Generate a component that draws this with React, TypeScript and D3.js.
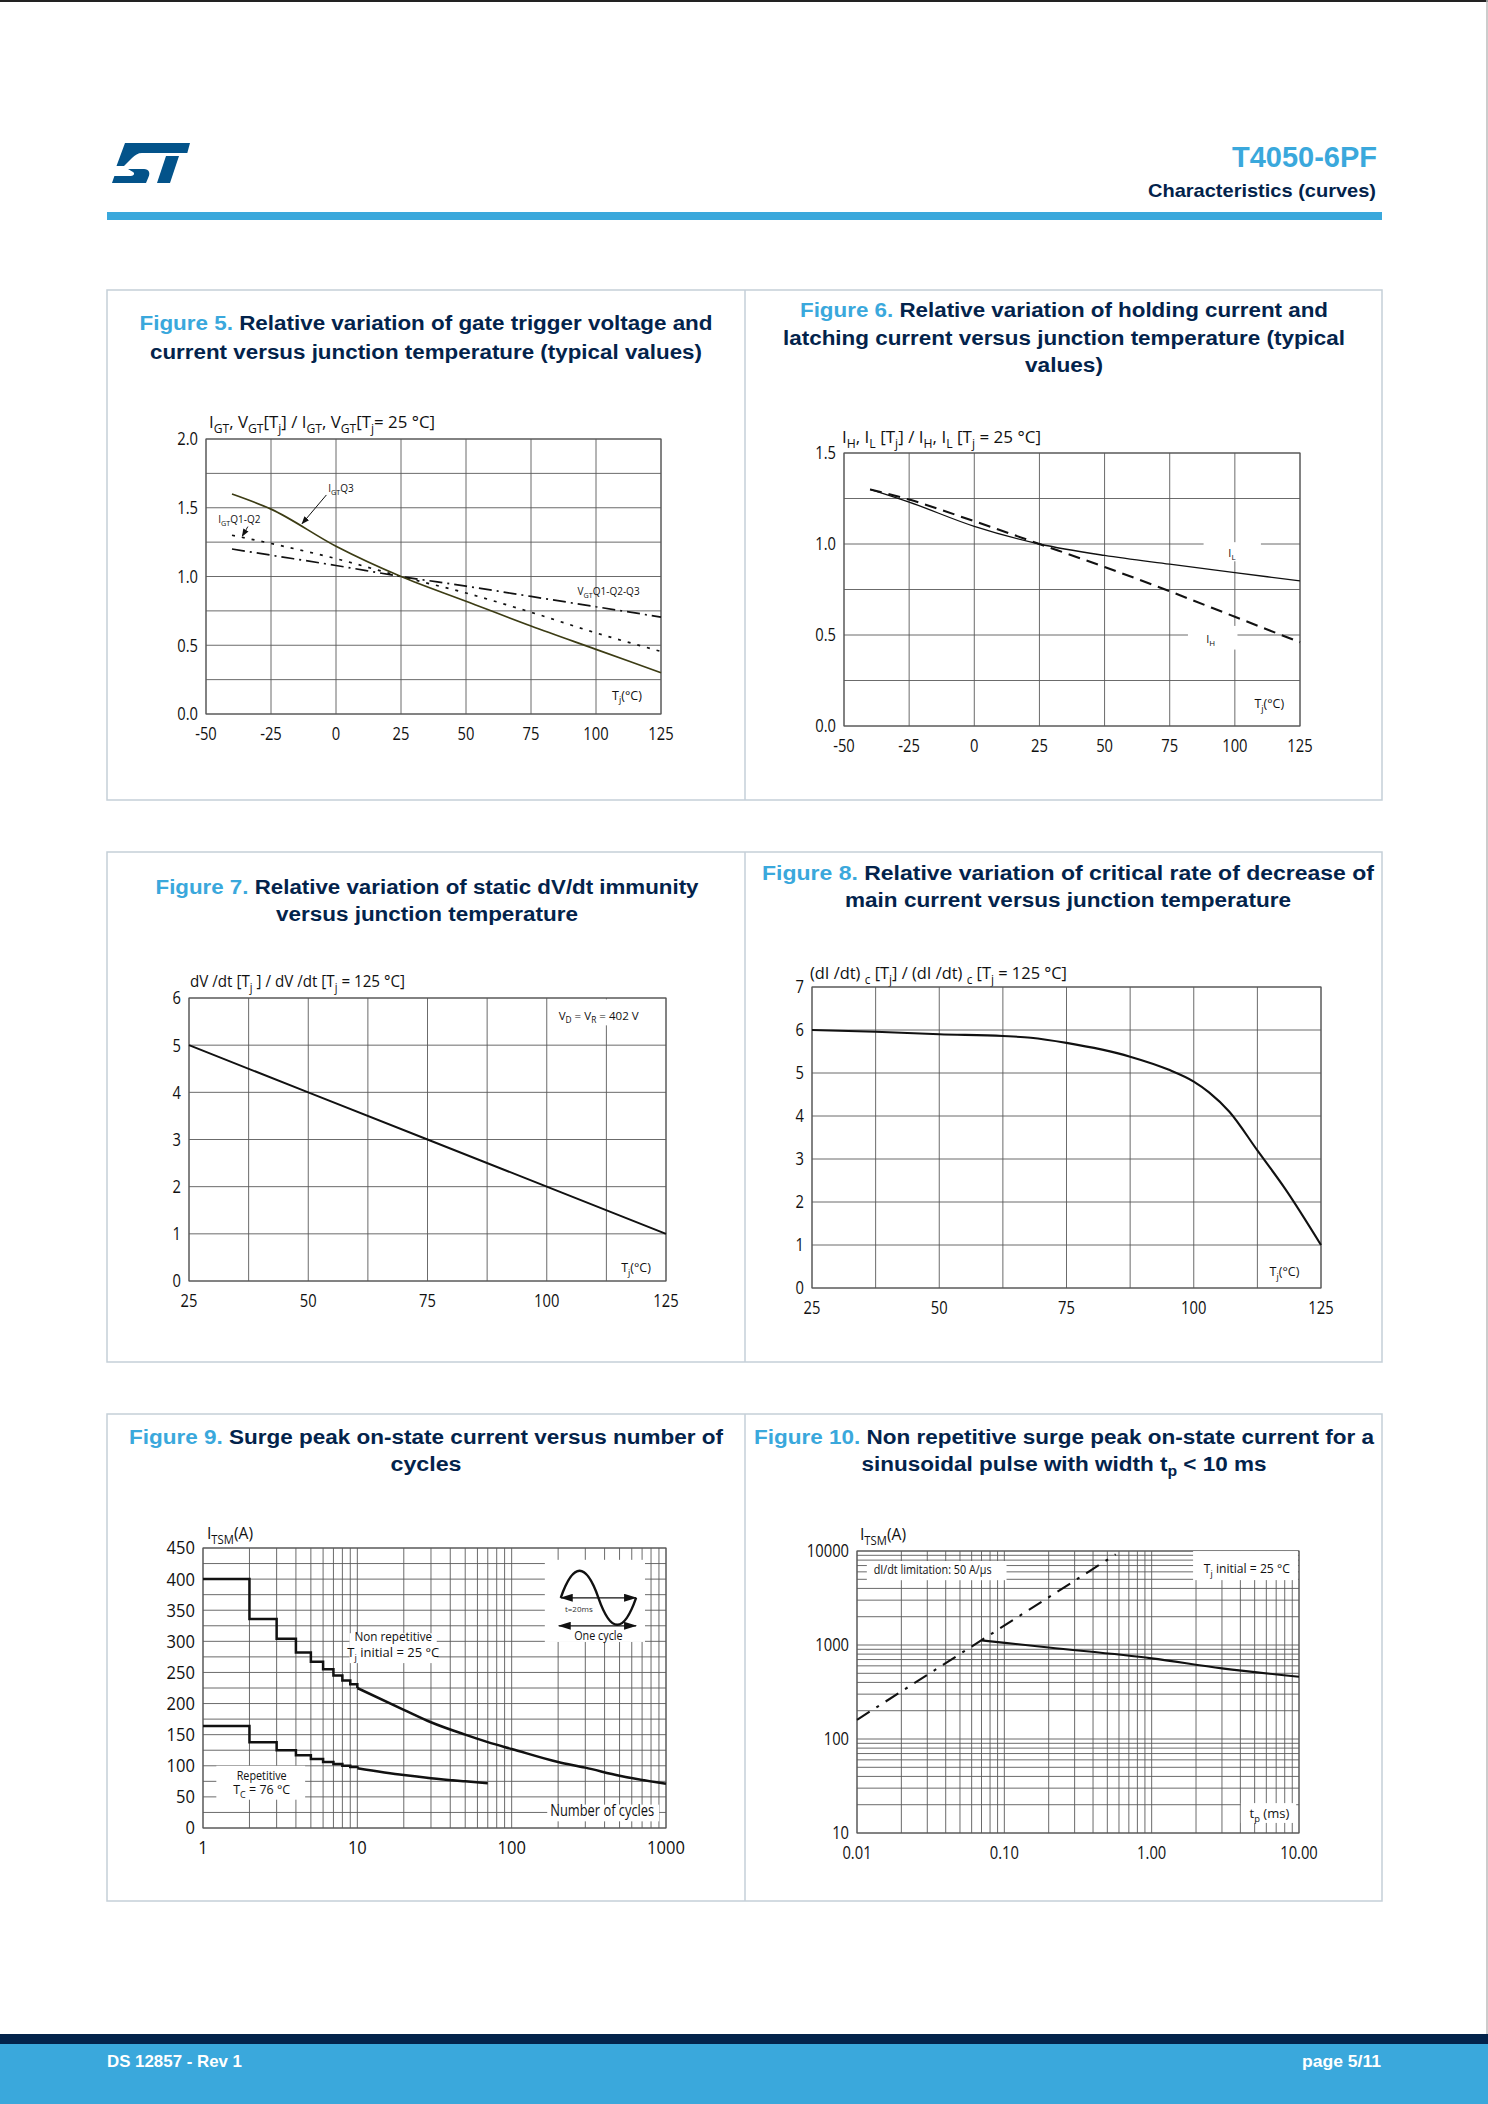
import React from "react";
import * as d3 from "d3";

const W = 1488;
const H = 2104;
const BLUE = "#3aa8dc";
const NAVY = "#03234b";
const BORDER = "#c5cfd8";
const GRID = "#5a5a5a";
const SANS = "'Open Sans', 'Noto Sans', sans-serif";
const HEAD = "'Liberation Sans', 'Open Sans', sans-serif";

// Figure 5 - gate trigger current / voltage vs Tj
const f5Temp = [-40, -25, 0, 25, 50, 75, 100, 125];
const f5IgtQ3 = [1.6, 1.49, 1.22, 1.0, 0.82, 0.64, 0.47, 0.3];
const f5IgtQ12 = [1.3, 1.24, 1.13, 1.0, 0.88, 0.74, 0.59, 0.455];
const f5VgtQ123 = [1.2, 1.155, 1.08, 1.0, 0.93, 0.855, 0.78, 0.705];

// Figure 6 - holding / latching current vs Tj
const f6Temp = [-40, -25, 0, 25, 50, 75, 100, 125];
const f6IL = [1.3, 1.23, 1.097, 1.0, 0.937, 0.889, 0.843, 0.797];
const f6IH = [1.3, 1.244, 1.125, 1.0, 0.874, 0.74, 0.6, 0.46];

// Figure 7 - static dV/dt
const f7Temp = [25, 50, 75, 100, 125];
const f7Ratio = [5, 4, 3, 2, 1];

// Figure 8 - (dI/dt)c
const f8Temp = [25, 37.5, 50, 62.5, 68, 75, 87.5, 95, 100, 103, 107, 112.5, 118, 125];
const f8Ratio = [6.0, 5.96, 5.9, 5.86, 5.82, 5.7, 5.38, 5.08, 4.8, 4.55, 4.1, 3.2, 2.3, 1.0];

// Figure 9 - surge current vs number of cycles
const f9StepCycles = [1, 2, 3, 4, 5, 6, 7, 8, 9, 10];
const f9NonRepSteps = [400, 336, 304, 282, 267, 255, 245, 237, 231, 225];
const f9RepSteps = [164, 138, 125, 117, 111, 106, 103, 100, 98, 96];
const f9NonRepCycles = [10, 20, 30, 50, 70, 100, 200, 300, 500, 1000];
const f9NonRep = [225, 190, 170, 150, 138, 127, 106, 97, 84, 71];
const f9RepCycles = [10, 20, 30, 50, 70];
const f9Rep = [96, 85, 80, 75, 72];

// Figure 10 - surge current vs pulse width
const f10Tp = [0.07, 0.2, 1, 3, 10];
const f10Itsm = [1120, 940, 720, 564, 460];
const f10LimTp = [0.01, 0.57];
const f10LimI = [160, 9200];

// ticks
const tempTicks56 = [-50, -25, 0, 25, 50, 75, 100, 125];
const tempTicks78 = [25, 50, 75, 100, 125];
const f5YTicks = [0, 0.5, 1, 1.5, 2];
const f6YTicks = [0, 0.5, 1, 1.5];
const f7YTicks = [0, 1, 2, 3, 4, 5, 6];
const f8YTicks = [0, 1, 2, 3, 4, 5, 6, 7];
const f9XTicks = [1, 10, 100, 1000];
const f9YTicks = [0, 50, 100, 150, 200, 250, 300, 350, 400, 450];
const f10XTicks = [0.01, 0.1, 1, 10];
const f10XLabels = ["0.01", "0.10", "1.00", "10.00"];
const f10YTicks = [10, 100, 1000, 10000];

type P = [number, number];
const zip = (a: number[], b: number[]): P[] => a.map((v, i) => [v, b[i]]);

type Seg = [string, number?];
function Rich({ x, y, segs, size, anchor = "start", fill = "#111", len }: any) {
  let cur = 0;
  return (
    <text x={x} y={y} fontSize={size} textAnchor={anchor} fontFamily={SANS} fill={fill}
      textLength={len} lengthAdjust={len ? "spacingAndGlyphs" : undefined}>
      {(segs as Seg[]).map(([t, s], i) => {
        const target = s ? size * 0.3 : 0;
        const dy = target - cur;
        cur = target;
        return (
          <tspan key={i} dy={dy} fontSize={s ? size * 0.72 : size}>{t}</tspan>
        );
      })}
    </text>
  );
}

// narrow text, like the condensed face of the datasheet
function Narrow({ x, y, size, anchor = "start", sx = 0.82, children, fill = "#111" }: any) {
  return (
    <text transform={`translate(${x},${y}) scale(${sx},1)`} fontSize={size} textAnchor={anchor}
      fontFamily={SANS} fill={fill}>{children}</text>
  );
}

function Title({ cx, lines }: any) {
  return (
    <g>
      {lines.map((ln: any, i: number) => (
        <text key={i} x={cx} y={ln.y} textAnchor="middle" fontFamily={HEAD} fontWeight="bold"
          fontSize={20} textLength={ln.len} lengthAdjust="spacingAndGlyphs">
          {ln.segs.map((s: any, j: number) => (
            <tspan key={j} fill={s[1]} fontSize={s[2] ? 14 : 20} dy={s[2] ? 5 : (j > 0 && ln.segs[j - 1][2] ? -5 : 0)}>{s[0]}</tspan>
          ))}
        </text>
      ))}
    </g>
  );
}

function Plot({ x, y, xGrid, yGrid, xTicks, yTicks, xFmt, yFmt, fs = 18, sx = 0.82 }: any) {
  const [x0, x1] = x.range();
  const [y0, y1] = y.range();
  return (
    <g>
      {xGrid.map((v: number, i: number) => (
        <line key={"gx" + i} x1={x(v)} x2={x(v)} y1={y0} y2={y1} stroke={GRID} strokeWidth={0.9} />
      ))}
      {yGrid.map((v: number, i: number) => (
        <line key={"gy" + i} x1={x0} x2={x1} y1={y(v)} y2={y(v)} stroke={GRID} strokeWidth={0.9} />
      ))}
      <rect x={x0} y={y1} width={x1 - x0} height={y0 - y1} fill="none" stroke={GRID} strokeWidth={1.1} />
      {xTicks.map((v: number, i: number) => (
        <Narrow key={"tx" + i} x={x(v)} y={y0 + 26} size={fs} sx={sx} anchor="middle">{xFmt(v, i)}</Narrow>
      ))}
      {yTicks.map((v: number, i: number) => (
        <Narrow key={"ty" + i} x={x0 - 8} y={y(v) + fs * 0.36} size={fs} sx={sx} anchor="end">{yFmt(v, i)}</Narrow>
      ))}
    </g>
  );
}

function Box({ x, y, xa, xb, ya, yb }: any) {
  const l = Math.min(x(xa), x(xb));
  const t = Math.min(y(ya), y(yb));
  return <rect x={l} y={t} width={Math.abs(x(xb) - x(xa))} height={Math.abs(y(yb) - y(ya))} fill="#fff" />;
}

function Fig5() {
  const x = d3.scaleLinear().domain([-50, 125]).range([206, 661]);
  const y = d3.scaleLinear().domain([0, 2]).range([714, 439]);
  const line = d3.line<P>().x(d => x(d[0])).y(d => y(d[1])).curve(d3.curveMonotoneX);
  return (
    <g>
      <Title cx={426} lines={[
        { y: 330, len: 573, segs: [["Figure 5.", BLUE], [" Relative variation of gate trigger voltage and", NAVY]] },
        { y: 359, len: 552, segs: [["current versus junction temperature (typical values)", NAVY]] },
      ]} />
      <Rich x={209} y={428} size={17} len={226}
        segs={[["I"], ["GT", 1], [", V"], ["GT", 1], ["[T"], ["j", 1], ["]  / I"], ["GT", 1], [", V"], ["GT", 1], ["[T"], ["j", 1], ["= 25 °C]"]]} />
      <Plot x={x} y={y} xGrid={d3.range(-50, 126, 25)} yGrid={d3.range(0, 2.01, 0.25)}
        xTicks={tempTicks56} yTicks={f5YTicks} xFmt={(v: number) => String(v)} yFmt={(v: number) => v.toFixed(1)} />
      <path d={line(zip(f5Temp, f5VgtQ123)) || ""} fill="none" stroke="#111" strokeWidth={1.7} strokeDasharray="13,5,2,5" />
      <path d={line(zip(f5Temp, f5IgtQ12)) || ""} fill="none" stroke="#111" strokeWidth={1.7} strokeDasharray="3,7" />
      <path d={line(zip(f5Temp, f5IgtQ3)) || ""} fill="none" stroke="#3c3c14" strokeWidth={1.7} />
      <Rich x={x(-3)} y={y(1.617)} size={10} segs={[["I"], ["GT", 1], ["Q3"]]} />
      <line x1={x(-3.7)} y1={y(1.593)} x2={x(-13)} y2={y(1.385)} stroke="#111" strokeWidth={1} markerEnd="url(#arr)" />
      <Rich x={x(-45.3)} y={y(1.392)} size={10} segs={[["I"], ["GT", 1], ["Q1-Q2"]]} />
      <line x1={x(-33.9)} y1={y(1.363)} x2={x(-36)} y2={y(1.295)} stroke="#111" strokeWidth={1} markerEnd="url(#arr)" />
      <Rich x={x(92.9)} y={y(0.867)} size={10} segs={[["V"], ["GT", 1], ["Q1-Q2-Q3"]]} />
      <Rich x={x(106.2)} y={y(0.104)} size={12.5} segs={[["T"], ["j", 1], ["(°C)"]]} />
    </g>
  );
}

function Fig6() {
  const x = d3.scaleLinear().domain([-50, 125]).range([844, 1300]);
  const y = d3.scaleLinear().domain([0, 1.5]).range([726, 453]);
  const line = d3.line<P>().x(d => x(d[0])).y(d => y(d[1])).curve(d3.curveMonotoneX);
  return (
    <g>
      <Title cx={1064} lines={[
        { y: 317, len: 528, segs: [["Figure 6.", BLUE], [" Relative variation of holding current and", NAVY]] },
        { y: 345, len: 562, segs: [["latching current versus junction temperature (typical", NAVY]] },
        { y: 372, len: 78, segs: [["values)", NAVY]] },
      ]} />
      <Rich x={842} y={443} size={17} len={199}
        segs={[["I"], ["H", 1], [", I"], ["L", 1], [" [T"], ["j", 1], ["]  / I"], ["H", 1], [", I"], ["L", 1], [" [T"], ["j", 1], [" = 25 °C]"]]} />
      <Plot x={x} y={y} xGrid={d3.range(-50, 126, 25)} yGrid={d3.range(0, 1.51, 0.25)}
        xTicks={tempTicks56} yTicks={f6YTicks} xFmt={(v: number) => String(v)} yFmt={(v: number) => v.toFixed(1)} />
      <Box x={x} y={y} xa={88} xb={110} ya={0.905} yb={1.01} />
      <Box x={x} y={y} xa={82} xb={101} ya={0.42} yb={0.55} />
      <path d={line(zip(f6Temp, f6IL)) || ""} fill="none" stroke="#111" strokeWidth={1.3} />
      <path d={line(zip(f6Temp, f6IH)) || ""} fill="none" stroke="#111" strokeWidth={2.1} strokeDasharray="12,7" />
      <Rich x={x(97.5)} y={y(0.93)} size={11} segs={[["I"], ["L", 1]]} />
      <Rich x={x(89)} y={y(0.455)} size={11} segs={[["I"], ["H", 1]]} />
      <Rich x={x(107.5)} y={y(0.097)} size={12.5} segs={[["T"], ["j", 1], ["(°C)"]]} />
    </g>
  );
}

function Fig7() {
  const x = d3.scaleLinear().domain([25, 125]).range([189, 666]);
  const y = d3.scaleLinear().domain([0, 6]).range([1281, 998]);
  const line = d3.line<P>().x(d => x(d[0])).y(d => y(d[1]));
  return (
    <g>
      <Title cx={427} lines={[
        { y: 894, len: 543, segs: [["Figure 7.", BLUE], [" Relative variation of static dV/dt immunity", NAVY]] },
        { y: 921, len: 302, segs: [["versus junction temperature", NAVY]] },
      ]} />
      <Rich x={190} y={987} size={17} len={215}
        segs={[["dV /dt [T"], ["j", 1], [" ]  / dV /dt [T"], ["j", 1], [" = 125 °C]"]]} />
      <Plot x={x} y={y} xGrid={d3.range(25, 126, 12.5)} yGrid={d3.range(0, 6.01, 1)}
        xTicks={tempTicks78} yTicks={f7YTicks} xFmt={(v: number) => String(v)} yFmt={(v: number) => String(v)} />
      <Box x={x} y={y} xa={101} xb={120.5} ya={5.42} yb={5.97} />
      <path d={line(zip(f7Temp, f7Ratio)) || ""} fill="none" stroke="#111" strokeWidth={1.9} />
      <Rich x={x(102.5)} y={y(5.54)} size={11.5} len={80}
        segs={[["V"], ["D", 1], [" = V"], ["R", 1], [" = 402 V"]]} />
      <Rich x={x(115.6)} y={y(0.19)} size={12.5} segs={[["T"], ["j", 1], ["(°C)"]]} />
    </g>
  );
}

function Fig8() {
  const x = d3.scaleLinear().domain([25, 125]).range([812, 1321]);
  const y = d3.scaleLinear().domain([0, 7]).range([1288, 987]);
  const line = d3.line<P>().x(d => x(d[0])).y(d => y(d[1])).curve(d3.curveMonotoneX);
  return (
    <g>
      <Title cx={1068} lines={[
        { y: 880, len: 612, segs: [["Figure 8.", BLUE], [" Relative variation of critical rate of decrease of", NAVY]] },
        { y: 907, len: 446, segs: [["main current versus junction temperature", NAVY]] },
      ]} />
      <Rich x={810} y={979} size={17} len={257}
        segs={[["(dI /dt) "], ["c", 1], ["  [T"], ["j", 1], ["]  / (dI /dt) "], ["c", 1], [" [T"], ["j", 1], [" = 125 °C]"]]} />
      <Plot x={x} y={y} xGrid={d3.range(25, 126, 12.5)} yGrid={d3.range(0, 7.01, 1)}
        xTicks={tempTicks78} yTicks={f8YTicks} xFmt={(v: number) => String(v)} yFmt={(v: number) => String(v)} />
      <path d={line(zip(f8Temp, f8Ratio)) || ""} fill="none" stroke="#111" strokeWidth={2.1} />
      <Rich x={x(114.9)} y={y(0.27)} size={12.5} segs={[["T"], ["j", 1], ["(°C)"]]} />
    </g>
  );
}

function logGrid(lo: number, hi: number) {
  const out: number[] = [];
  for (let d = lo; d < hi; d *= 10) for (let k = 1; k < 10; k++) out.push(d * k);
  out.push(hi);
  return out;
}

function Fig9() {
  const x = d3.scaleLog().domain([1, 1000]).range([203, 666]);
  const y = d3.scaleLinear().domain([0, 450]).range([1828, 1548]);
  const step = d3.line<P>().x(d => x(d[0])).y(d => y(d[1])).curve(d3.curveStepAfter);
  const smooth = d3.line<P>().x(d => x(d[0])).y(d => y(d[1])).curve(d3.curveMonotoneX);
  // small inset showing one sine cycle
  const ix0 = x(208), ix1 = x(640), iy = y(370), amp = 27;
  const L = ix1 - ix0;
  const sine = `M${ix0},${iy} Q${ix0 + L / 4},${iy - 2 * amp} ${ix0 + L / 2},${iy} T${ix1},${iy}`;
  return (
    <g>
      <Title cx={426} lines={[
        { y: 1444, len: 594, segs: [["Figure 9.", BLUE], [" Surge peak on-state current versus number of", NAVY]] },
        { y: 1471, len: 71, segs: [["cycles", NAVY]] },
      ]} />
      <Rich x={207} y={1539} size={17} len={46} segs={[["I"], ["TSM", 1], ["(A)"]]} />
      <Plot x={x} y={y} xGrid={logGrid(1, 1000)} yGrid={d3.range(0, 451, 25)} sx={0.92}
        xTicks={f9XTicks} yTicks={f9YTicks} xFmt={(v: number) => String(v)} yFmt={(v: number) => String(v)} />
      <Box x={x} y={y} xa={164} xb={731} ya={299} yb={431} />
      <Box x={x} y={y} xa={8.9} xb={32.7} ya={265} yb={313} />
      <Box x={x} y={y} xa={1.22} xb={4.59} ya={45.5} yb={100} />
      <Box x={x} y={y} xa={170} xb={903} ya={10.7} yb={37.5} />
      <path d={step(zip(f9StepCycles, f9NonRepSteps)) || ""} fill="none" stroke="#111" strokeWidth={2.5} />
      <path d={smooth(zip(f9NonRepCycles, f9NonRep)) || ""} fill="none" stroke="#111" strokeWidth={2.5} />
      <path d={step(zip(f9StepCycles, f9RepSteps)) || ""} fill="none" stroke="#111" strokeWidth={2.5} />
      <path d={smooth(zip(f9RepCycles, f9Rep)) || ""} fill="none" stroke="#111" strokeWidth={2.5} />
      <path d={sine} fill="none" stroke="#111" strokeWidth={2.4} />
      <line x1={ix0} x2={ix1} y1={iy} y2={iy} stroke="#111" strokeWidth={1.2} markerStart="url(#arr2)" markerEnd="url(#arr2)" />
      <line x1={ix0 - 2} x2={ix1} y1={iy + 28} y2={iy + 28} stroke="#111" strokeWidth={1.2} markerStart="url(#arr2)" markerEnd="url(#arr2)" />
      <text x={ix0 + L * 0.24} y={iy + 14} fontSize={8} fontFamily={SANS} textAnchor="middle" fill="#333">t=20ms</text>
      <Narrow x={(ix0 + ix1) / 2} y={iy + 42} size={12} sx={0.9} anchor="middle">One cycle</Narrow>
      <Narrow x={x(17.1)} y={y(300)} size={13} sx={0.9} anchor="middle">Non repetitive</Narrow>
      <Rich x={x(17.1)} y={y(275)} size={13} anchor="middle" segs={[["T"], ["j", 1], [" initial = 25 °C"]]} />
      <Narrow x={x(2.4)} y={y(77.7)} size={12} sx={0.9} anchor="middle">Repetitive</Narrow>
      <Rich x={x(2.4)} y={y(54.6)} size={12.5} anchor="middle" segs={[["T"], ["C", 1], [" = 76 °C"]]} />
      <text x={x(386)} y={y(18.7)} fontSize={16} fontFamily={SANS} textAnchor="middle" fill="#111"
        textLength={104} lengthAdjust="spacingAndGlyphs">Number of cycles</text>
    </g>
  );
}

function Fig10() {
  const x = d3.scaleLog().domain([0.01, 10]).range([857, 1299]);
  const y = d3.scaleLog().domain([10, 10000]).range([1833, 1551]);
  const line = d3.line<P>().x(d => x(d[0])).y(d => y(d[1])).curve(d3.curveMonotoneX);
  return (
    <g>
      <Title cx={1064} lines={[
        { y: 1444, len: 620, segs: [["Figure 10.", BLUE], [" Non repetitive surge peak on-state current for a", NAVY]] },
        { y: 1471, len: 405, segs: [["sinusoidal pulse with width t", NAVY], ["p", NAVY, 1], [" < 10 ms", NAVY]] },
      ]} />
      <Rich x={860} y={1540} size={17} len={46} segs={[["I"], ["TSM", 1], ["(A)"]]} />
      <Plot x={x} y={y} xGrid={logGrid(0.01, 10)} yGrid={logGrid(10, 10000)}
        xTicks={f10XTicks} yTicks={f10YTicks} xFmt={(_: number, i: number) => f10XLabels[i]} yFmt={(v: number) => String(v)} />
      <Box x={x} y={y} xa={0.01166} xb={0.1035} ya={4890} yb={7830} />
      <Box x={x} y={y} xa={1.91} xb={9.84} ya={4900} yb={9990} />
      <Box x={x} y={y} xa={4.03} xb={9.57} ya={12.8} yb={20.8} />
      <path d={line(zip(f10LimTp, f10LimI)) || ""} fill="none" stroke="#111" strokeWidth={2.1} strokeDasharray="15,8,3,8" />
      <path d={line(zip(f10Tp, f10Itsm)) || ""} fill="none" stroke="#111" strokeWidth={2.1} />
      <text x={x(0.01297)} y={y(5650)} fontSize={13} fontFamily={SANS} fill="#111"
        textLength={118} lengthAdjust="spacingAndGlyphs">dI/dt limitation: 50 A/µs</text>
      <Rich x={x(2.26)} y={y(5840)} size={13} len={86} segs={[["T"], ["j", 1], [" initial = 25 °C"]]} />
      <Rich x={x(4.62)} y={y(14.4)} size={13} segs={[["t"], ["p", 1], [" (ms)"]]} />
    </g>
  );
}

function Logo() {
  return (
    <g transform="translate(100,138)" fill="#03538a">
      <path d="M25 5 H90 L87.3 15 H42 C38 15 35 17 32 20 L24 28 H16.5 Z" />
      <path d="M28 31 H44 C49 31 50.5 35 48.5 39 L46 45 H12 L14.4 38 H31 C34 38 35 35 33 34 Z" />
      <path d="M66 18 H79 L70 45 H57 Z" />
    </g>
  );
}

export default function App() {
  const rows = [[290, 800], [852, 1362], [1414, 1901]];
  return (
    <div style={{ position: "absolute", left: 0, top: 0 }}>
      <svg width={W} height={H} viewBox={`0 0 ${W} ${H}`} style={{ display: "block", background: "#fff" }}>
        <defs>
          <marker id="arr" markerWidth={8} markerHeight={8} refX={7} refY={4} orient="auto" markerUnits="userSpaceOnUse">
            <path d="M0,1 L8,4 L0,7 Z" fill="#111" />
          </marker>
          <marker id="arr2" markerWidth={13} markerHeight={8} refX={12} refY={4} orient="auto-start-reverse" markerUnits="userSpaceOnUse">
            <path d="M0,0 L13,4 L0,8 Z" fill="#111" />
          </marker>
        </defs>
        <rect x={0} y={0} width={W} height={H} fill="#fff" />
        <line x1={0} x2={W} y1={1} y2={1} stroke="#222" strokeWidth={2} />
        <line x1={W - 1} x2={W - 1} y1={0} y2={H} stroke="#bbb" strokeWidth={1.5} />

        <Logo />
        <text x={1377} y={167} textAnchor="end" fontFamily={HEAD} fontWeight="bold" fontSize={29} fill={BLUE}
          textLength={145} lengthAdjust="spacingAndGlyphs">T4050-6PF</text>
        <text x={1376} y={197} textAnchor="end" fontFamily={HEAD} fontWeight="bold" fontSize={19} fill={NAVY}
          textLength={228} lengthAdjust="spacingAndGlyphs">Characteristics (curves)</text>
        <rect x={107} y={212} width={1275} height={8} fill={BLUE} />

        {rows.map(([t, b], i) => (
          <g key={i}>
            <rect x={107} y={t} width={1275} height={b - t} fill="none" stroke={BORDER} strokeWidth={1.5} />
            <line x1={745} x2={745} y1={t} y2={b} stroke={BORDER} strokeWidth={1.5} />
          </g>
        ))}

        <Fig5 />
        <Fig6 />
        <Fig7 />
        <Fig8 />
        <Fig9 />
        <Fig10 />

        <rect x={0} y={2034} width={W} height={10} fill={NAVY} />
        <rect x={0} y={2044} width={W} height={60} fill={BLUE} />
        <text x={107} y={2067} fontFamily={HEAD} fontWeight="bold" fontSize={17} fill="#fff"
          textLength={135} lengthAdjust="spacingAndGlyphs">DS 12857 - Rev 1</text>
        <text x={1381} y={2067} textAnchor="end" fontFamily={HEAD} fontWeight="bold" fontSize={17} fill="#fff"
          textLength={79} lengthAdjust="spacingAndGlyphs">page 5/11</text>
      </svg>
    </div>
  );
}
